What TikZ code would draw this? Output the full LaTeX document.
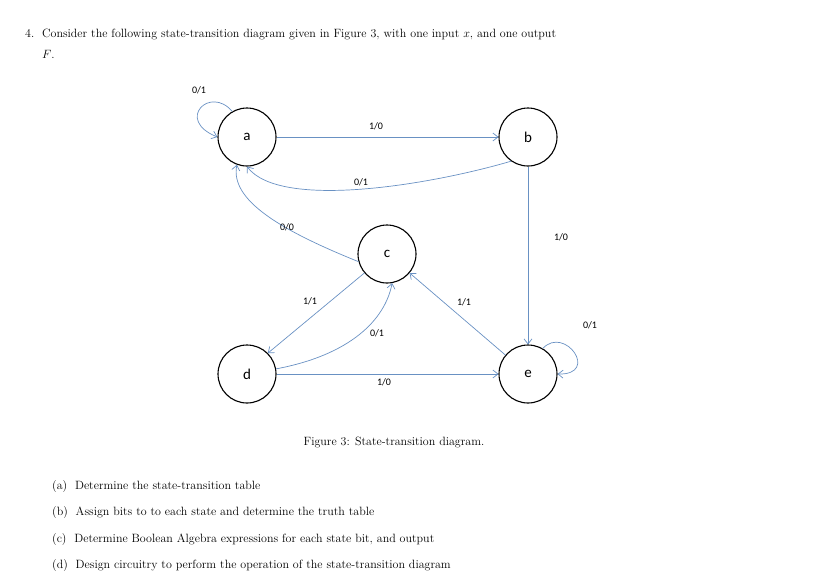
\documentclass[tikz,border=0pt]{standalone}
\usepackage{fontspec}
\usetikzlibrary{arrows.meta}
\newfontfamily\carlitofont{Carlito}
\begin{document}
\begin{tikzpicture}[x=1pt,y=-1pt,
 st/.style={circle,draw,line width=1.1pt,minimum size=58pt,inner sep=0pt,font=\carlitofont\fontsize{15}{15}\selectfont},
 tr/.style={draw={rgb,255:red,105;green,145;blue,195},line width=0.7pt,-{Straight Barb[length=5pt,width=8pt]}},
 lb/.style={font=\carlitofont\fontsize{10}{10}\selectfont,inner sep=0pt},
 tx/.style={anchor=base west,inner sep=0pt,font=\fontsize{12}{14}\selectfont}]
\useasboundingbox (0,0) rectangle (815,579);
\node[st] (a) at (247,137) {a};
\node[st] (b) at (528,137) {b};
\node[st] (c) at (387,254) {c};
\node[st] (d) at (247,374) {d};
\node[st] (e) at (528,374) {e};
\draw[tr] (a.120) .. controls (210,85) and (175,120) .. (a.180);
\draw[tr] (e.60) .. controls (565,325) and (600,375) .. (e.0);
\draw[tr] (a) -- (b);
\draw[tr] (b.235) .. controls (430,185) and (280,210) .. (a.270);
\draw[tr] (c.195) .. controls (280,230) and (230,200) .. (a.250);
\draw[tr] (c.220) -- (d.45);
\draw[tr] (d.10) .. controls (350,355) and (385,320) .. (c.280);
\draw[tr] (e.140) -- (c.320);
\draw[tr] (b) -- (e);
\draw[tr] (d) -- (e);
\node[lb] (l1) at (199,90) {0/1};
\node[lb] (l2) at (376,126) {1/0};
\node[lb] (l3) at (361,182) {0/1};
\node[lb] (l4) at (287,227) {0/0};
\node[lb] (l5) at (310,301) {1/1};
\node[lb] (l6) at (377,333) {0/1};
\node[lb] (l7) at (464,302) {1/1};
\node[lb] (l8) at (561,237) {1/0};
\node[lb] (l9) at (384,382) {1/0};
\node[lb] (l10) at (590,325) {0/1};
\node[tx] (t1) at (25,37) {4.\ \ Consider the following state-transition diagram given in Figure 3, with one input $x$, and one output};
\node[tx] (t2) at (42,58) {$F$.};
\node[tx,anchor=base] (cap) at (394,445) {Figure 3: State-transition diagram.};
\node[tx] (qa) at (52,489) {(a)\ \ Determine the state-transition table};
\node[tx] (qb) at (52,515) {(b)\ \ Assign bits to to each state and determine the truth table};
\node[tx] (qc) at (52,542) {(c)\ \ Determine Boolean Algebra expressions for each state bit, and output};
\node[tx] (qd) at (52,568) {(d)\ \ Design circuitry to perform the operation of the state-transition diagram};
\end{tikzpicture}
\end{document}
